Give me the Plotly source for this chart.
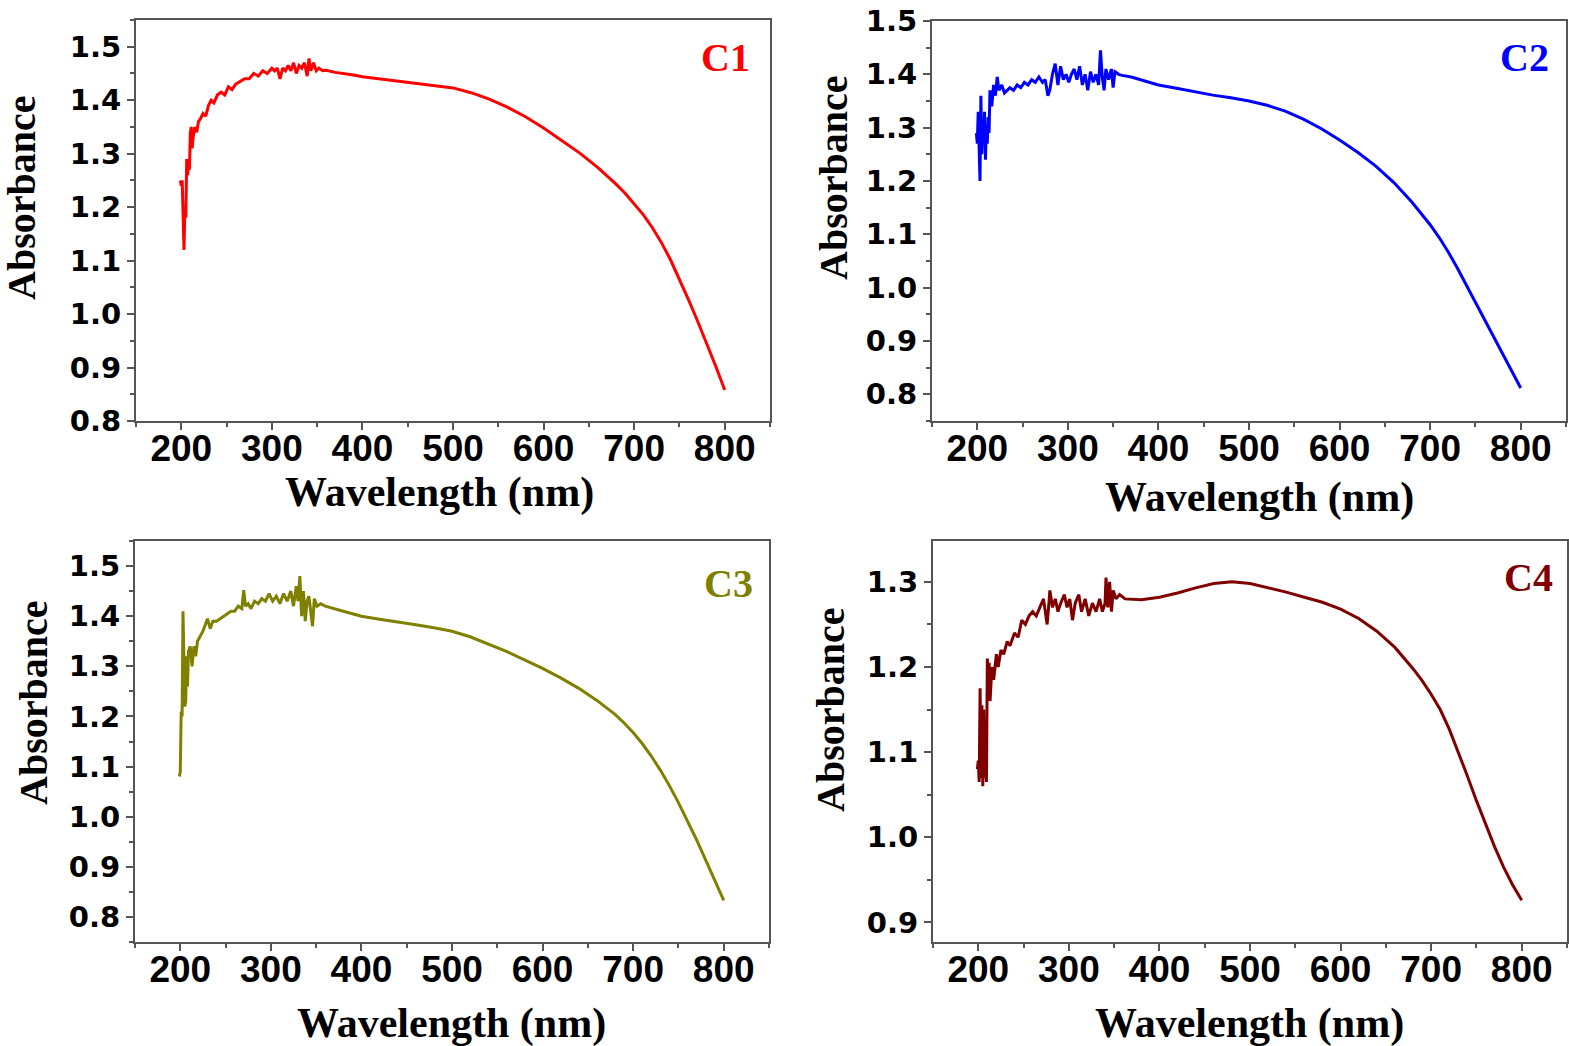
import plotly.graph_objects as go

# ---------------- data ----------------
c1_x = [199,200,201,202,203,204,205,206,207,208,209,210,211,212,213,215,217,219,221,224,227,230,233,236,240,244,248,252,256,260,265,270,275,280,285,290,295,300,303,306,309,312,315,318,321,324,327,330,333,336,339,341,343,346,349,352,356,360,370,380,390,400,420,440,460,480,500,520,540,560,580,600,620,640,660,670,680,690,700,710,720,730,740,750,760,770,780,790,800]
c1_y = [1.25,1.24,1.25,1.14,1.12,1.20,1.18,1.29,1.26,1.28,1.27,1.34,1.35,1.31,1.33,1.35,1.34,1.36,1.365,1.375,1.37,1.39,1.40,1.395,1.41,1.415,1.41,1.425,1.42,1.43,1.435,1.44,1.44,1.45,1.445,1.455,1.45,1.46,1.455,1.46,1.44,1.46,1.455,1.465,1.455,1.47,1.45,1.465,1.46,1.47,1.445,1.478,1.455,1.47,1.455,1.46,1.455,1.456,1.452,1.45,1.447,1.444,1.440,1.436,1.432,1.428,1.423,1.414,1.402,1.387,1.369,1.348,1.325,1.301,1.274,1.259,1.243,1.226,1.207,1.186,1.162,1.134,1.102,1.066,1.027,0.987,0.946,0.903,0.858]

c2_x = [199,200,201,202,203,204,205,206,207,208,209,210,211,212,213,214,216,218,220,222,224,227,230,233,236,240,244,248,252,256,260,264,268,272,275,278,280,283,286,289,292,295,298,301,304,307,310,313,316,319,322,325,328,331,334,336,338,340,342,345,348,350,352,356,360,370,380,390,400,420,440,460,480,500,520,540,560,580,600,620,640,660,680,700,710,720,730,740,750,760,770,780,790,800]
c2_y = [1.29,1.27,1.33,1.28,1.20,1.36,1.25,1.31,1.27,1.33,1.24,1.30,1.27,1.32,1.29,1.37,1.34,1.38,1.36,1.395,1.37,1.38,1.365,1.37,1.375,1.37,1.38,1.375,1.385,1.38,1.39,1.385,1.395,1.385,1.39,1.36,1.37,1.40,1.42,1.38,1.415,1.39,1.40,1.385,1.40,1.41,1.39,1.415,1.38,1.40,1.37,1.405,1.385,1.40,1.38,1.445,1.395,1.37,1.41,1.39,1.41,1.375,1.405,1.40,1.398,1.395,1.39,1.385,1.38,1.374,1.367,1.361,1.356,1.350,1.342,1.331,1.316,1.298,1.277,1.254,1.228,1.197,1.160,1.118,1.094,1.067,1.037,1.005,0.972,0.940,0.908,0.875,0.843,0.812]

c3_x = [199,200,201,202,203,204,205,206,207,208,209,211,213,215,217,219,222,225,228,230,233,236,240,244,248,252,256,260,264,268,270,272,275,278,282,286,290,294,298,302,306,310,314,318,322,325,328,330,332,334,336,338,340,342,344,346,348,351,355,360,380,400,420,440,460,480,500,520,540,560,580,600,620,640,660,680,690,700,710,720,730,740,750,760,770,780,790,800]
c3_y = [1.08,1.09,1.21,1.20,1.41,1.33,1.22,1.23,1.32,1.26,1.33,1.34,1.30,1.34,1.32,1.35,1.36,1.37,1.385,1.395,1.375,1.39,1.39,1.395,1.40,1.405,1.41,1.41,1.42,1.415,1.452,1.42,1.425,1.415,1.43,1.425,1.435,1.43,1.445,1.43,1.44,1.425,1.445,1.43,1.45,1.42,1.46,1.43,1.48,1.40,1.45,1.39,1.43,1.44,1.41,1.38,1.435,1.42,1.425,1.42,1.41,1.40,1.394,1.389,1.383,1.377,1.370,1.359,1.345,1.330,1.313,1.296,1.277,1.256,1.232,1.204,1.187,1.168,1.146,1.121,1.093,1.062,1.028,0.992,0.954,0.914,0.874,0.833]

c4_x = [199,200,201,202,203,204,205,206,207,208,209,210,211,212,213,215,217,220,222,225,228,232,235,240,244,248,252,256,260,264,268,272,274,276,278,279,282,285,288,291,295,298,301,304,307,311,314,318,322,326,330,334,337,340,341,343,345,347,349,352,356,362,380,400,420,440,460,480,500,520,540,560,580,600,620,640,660,680,690,700,710,720,730,740,750,760,770,780,790,800]
c4_y = [1.08,1.09,1.065,1.175,1.07,1.155,1.06,1.15,1.07,1.09,1.065,1.21,1.18,1.205,1.16,1.20,1.185,1.215,1.20,1.22,1.215,1.23,1.225,1.24,1.235,1.255,1.25,1.26,1.265,1.26,1.27,1.28,1.265,1.25,1.275,1.29,1.27,1.28,1.265,1.275,1.285,1.27,1.28,1.255,1.275,1.285,1.265,1.28,1.26,1.275,1.265,1.28,1.265,1.275,1.305,1.27,1.30,1.265,1.29,1.28,1.285,1.28,1.279,1.282,1.287,1.293,1.298,1.300,1.298,1.293,1.288,1.282,1.276,1.268,1.257,1.242,1.223,1.198,1.184,1.168,1.150,1.127,1.100,1.072,1.043,1.015,0.989,0.965,0.944,0.926]

labels = ["C1", "C2", "C3", "C4"]
colors = ["#FF0000", "#0000FF", "#808000", "#800000"]
x_title = "Wavelength (nm)"
y_title = "Absorbance"
x_ticks = [200, 300, 400, 500, 600, 700, 800]

series = [(c1_x, c1_y), (c2_x, c2_y), (c3_x, c3_y), (c4_x, c4_y)]

# ---------------- layout geometry ----------------
W, H = 1569, 1046
boxes = [(136, 770, 20, 421), (932, 1566, 21, 421), (135, 769, 541, 942), (933, 1567, 541, 942)]
y_ranges = [[0.8, 1.55], [0.75, 1.5], [0.75, 1.55], [0.877, 1.348]]
x_range = [150, 850]

fig = go.Figure()
layout = dict(width=W, height=H, margin=dict(l=0, r=0, t=0, b=0, pad=0, autoexpand=False),
              paper_bgcolor="white", plot_bgcolor="white", showlegend=False)

tickfont_y = dict(family="DejaVu Sans", size=29, color="black", weight="bold")
tickfont_x = dict(family="Liberation Sans, Arial", size=37, color="black", weight="bold")
axcol = "#555555"

annotations = []
for i, ((xs, ys), (l, r, t, b)) in enumerate(zip(series, boxes)):
    n = "" if i == 0 else str(i + 1)
    fig.add_trace(go.Scatter(x=xs, y=ys, mode="lines", xaxis="x" + n, yaxis="y" + n,
                             line=dict(color=colors[i], width=3)))
    xd = [l / W, r / W]
    yd = [1 - b / H, 1 - t / H]
    layout["xaxis" + n] = dict(domain=xd, anchor="y" + n, range=x_range, tickvals=x_ticks,
                               automargin=False,
                               showline=True, linecolor=axcol, linewidth=2, mirror=True,
                               ticks="outside", ticklen=7, tickwidth=2, tickcolor=axcol,
                               ticklabelstandoff=-13,
                               minor=dict(ticks="outside", dtick=50, tick0=150, ticklen=4, tickwidth=2, tickcolor=axcol),
                               showgrid=False, zeroline=False, tickfont=tickfont_x)
    layout["yaxis" + n] = dict(domain=yd, anchor="x" + n, range=y_ranges[i], dtick=0.1, tick0=0,
                               tickformat=".1f", automargin=False,
                               showline=True, linecolor=axcol, linewidth=2, mirror=True,
                               ticks="outside", ticklen=7, tickwidth=2, tickcolor=axcol,
                               minor=dict(ticks="outside", dtick=0.05, tick0=0, ticklen=4, tickwidth=2, tickcolor=axcol),
                               showgrid=False, zeroline=False, tickfont=tickfont_y)

title_font = dict(family="Liberation Serif, Times New Roman", size=42, color="black")
ytitle_font = dict(family="Liberation Serif, Times New Roman", size=40, color="black")
xt_pos = [(439, 492), (1259, 497), (451, 1023), (1249, 1023)]
yt_pos = [(22, 198), (833, 178), (33, 703), (830, 710)]
lab_pos = [(725, 58), (1524, 58), (728, 583), (1528, 577)]
for i in range(4):
    annotations.append(dict(text="<b>" + x_title + "</b>", x=xt_pos[i][0] / W, y=1 - xt_pos[i][1] / H,
                            xref="paper", yref="paper", showarrow=False, font=title_font,
                            xanchor="center", yanchor="middle"))
    annotations.append(dict(text="<b>" + y_title + "</b>", x=yt_pos[i][0] / W, y=1 - yt_pos[i][1] / H,
                            xref="paper", yref="paper", showarrow=False, font=ytitle_font, textangle=-90,
                            xanchor="center", yanchor="middle"))
    annotations.append(dict(text="<b>" + labels[i] + "</b>", x=lab_pos[i][0] / W, y=1 - lab_pos[i][1] / H,
                            xref="paper", yref="paper", showarrow=False,
                            font=dict(family="Liberation Serif, Times New Roman", size=40, color=colors[i]),
                            xanchor="center", yanchor="middle"))

layout["annotations"] = annotations
fig.update_layout(**layout)
fig.write_html("out.html")
